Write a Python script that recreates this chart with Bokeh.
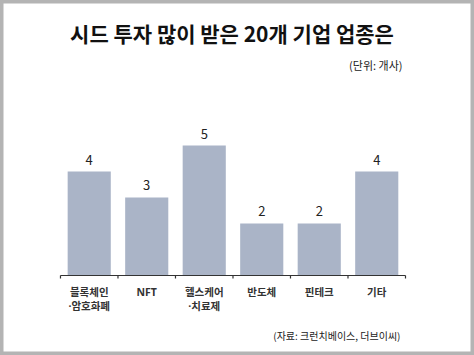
from bokeh.plotting import figure
from bokeh.models import Range1d
from bokeh.core.properties import value
from bokeh.embed import file_html
from bokeh.resources import INLINE

categories = ["블록체인·암호화폐", "NFT", "헬스케어·치료제", "반도체", "핀테크", "기타"]
label_line1 = ["블록체인", "NFT", "헬스케어", "반도체", "핀테크", "기타"]
label_line2 = ["·암호화폐", "", "·치료제", "", "", ""]
values = [4, 3, 5, 2, 2, 4]
title_text = "시드 투자 많이 받은 20개 기업 업종은"
unit_text = "(단위: 개사)"
source_text = "(자료: 크런치베이스, 더브이씨)"

FONT = value("Noto Sans CJK KR")
MIXED = value("'Noto Sans', 'Noto Sans CJK KR'")

p = figure(x_range=Range1d(-1.043, 7.2), y_range=Range1d(-3.077, 10.577), width=474, height=355,
           output_backend="svg", toolbar_location=None, x_axis_location=None, y_axis_location=None,
           min_border=0)
p.outline_line_color = "#b4b4b4"
p.outline_line_width = 6
p.grid.visible = False
p.background_fill_color = "white"

n = len(categories)
xs = [i + 0.5 for i in range(n)]

p.vbar(x=xs, top=values, width=0.75, color="#AAB4C7", line_color=None)

# baseline and boundary ticks
p.segment(x0=[0], y0=[0], x1=[n], y1=[0], line_color="#333333", line_width=1.2)
p.segment(x0=list(range(n + 1)), y0=[0] * (n + 1), x1=list(range(n + 1)), y1=[-0.12] * (n + 1),
          line_color="#333333", line_width=1.2)

# category labels
p.text(x=xs, y=[-0.62] * n, text=label_line1, text_align="center", text_baseline="middle",
       text_font=MIXED, text_font_size="10.5px", text_font_style="bold", text_color="#333333")
p.text(x=xs, y=[-1.19] * n, text=label_line2, text_align="center", text_baseline="middle",
       text_font=MIXED, text_font_size="10.5px", text_font_style="bold", text_color="#333333")

# value labels
p.text(x=xs, y=values, text=[str(v) for v in values], text_align="center", text_baseline="bottom",
       y_offset=-7, text_font=FONT, text_font_size="13px", text_color="#222222")

# title, unit, source
p.text(x=[2.983], y=[9.31], text=[title_text], text_align="center", text_baseline="middle",
       text_font=FONT, text_font_size="21px", text_font_style="bold", text_color="#111111")
p.text(x=[5.948], y=[8.077], text=[unit_text], text_align="right", text_baseline="middle",
       text_font=FONT, text_font_size="11px", text_color="#222222")
p.text(x=[5.913], y=[-2.308], text=[source_text], text_align="right", text_baseline="middle",
       text_font=FONT, text_font_size="10px", text_color="#222222")

open("out.html", "w").write(file_html(p, INLINE))
